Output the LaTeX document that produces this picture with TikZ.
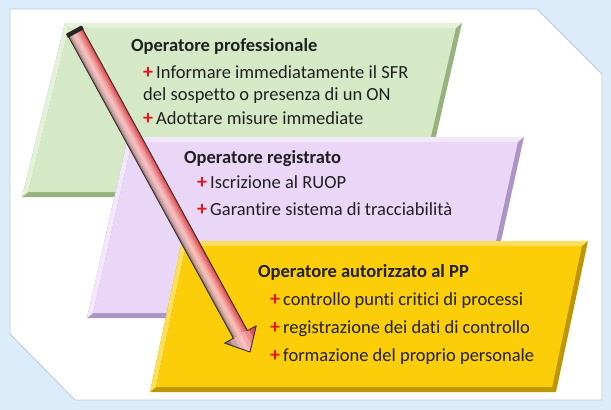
\documentclass[tikz,border=0pt]{standalone}
\usepackage{fontspec}
\setmainfont{Carlito}[Ligatures=CommonOff]
\usetikzlibrary{calc}
\definecolor{bgblue}{RGB}{220,236,250}
\definecolor{framegray}{RGB}{190,200,210}
\definecolor{textdark}{RGB}{32,32,32}
\definecolor{plusred}{RGB}{232,20,28}
\definecolor{gmain}{RGB}{213,233,198}
\definecolor{glight}{RGB}{228,242,218}
\definecolor{gdark}{RGB}{150,178,125}
\definecolor{lmain}{RGB}{234,215,247}
\definecolor{llight}{RGB}{243,232,251}
\definecolor{ldark}{RGB}{172,148,196}
\definecolor{ymain}{RGB}{252,206,10}
\definecolor{ylight}{RGB}{255,222,90}
\definecolor{ydark}{RGB}{190,150,0}
\definecolor{arrowred}{RGB}{222,78,84}
\definecolor{arrowpink}{RGB}{248,190,190}
\definecolor{arrowgray}{RGB}{150,128,128}
\definecolor{arrowdark}{RGB}{60,40,40}
\newcommand\bevelpanel[4]{%
  \fill[#4] (#1-oTL) -- (#1-oTR) -- (#1-oBR) -- (#1-oBL) -- cycle;
  \fill[#3] (#1-oTL) -- (#1-oTR) -- (#1-iTR) -- (#1-iTL) -- cycle;
  \fill[#3] (#1-oTL) -- (#1-iTL) -- (#1-iBL) -- (#1-oBL) -- cycle;
  \fill[#2] (#1-iTL) -- (#1-iTR) -- (#1-iBR) -- (#1-iBL) -- cycle;}
\newcommand\plusmark{{\color{plusred}\fontsize{20}{20}\selectfont\bfseries+}\,}
\begin{document}
\begin{tikzpicture}[x=1pt,y=-1pt,
  txt/.style={anchor=base west, inner sep=0pt, text=textdark, font=\fontsize{18.5}{22}\selectfont},
  ttl/.style={txt, font=\fontsize{18.5}{22}\selectfont\bfseries}]
\useasboundingbox (0,0) rectangle (611,410);
\fill[bgblue] (0,0) rectangle (611,410);
\fill[white, draw=framegray, line width=0.8pt] (10,9) -- (537,9) -- (602,74) -- (602,400) -- (75,400) -- (10,334) -- cycle;
% green panel
\coordinate (g-oTL) at (65,23);  \coordinate (g-oTR) at (462,23);
\coordinate (g-oBR) at (422,197); \coordinate (g-oBL) at (22,197);
\coordinate (g-iTL) at (68.8,28); \coordinate (g-iTR) at (455.9,28);
\coordinate (g-iBR) at (418.2,192); \coordinate (g-iBL) at (28.2,192);
\bevelpanel{g}{gmain}{glight}{gdark}
% lavender panel
\coordinate (l-oTL) at (128,137); \coordinate (l-oTR) at (524,137);
\coordinate (l-oBR) at (484,318); \coordinate (l-oBL) at (87,318);
\coordinate (l-iTL) at (131.9,142); \coordinate (l-iTR) at (517.9,142);
\coordinate (l-iBR) at (480.1,313); \coordinate (l-iBL) at (93.1,313);
\bevelpanel{l}{lmain}{llight}{ldark}
% gold panel
\coordinate (y-oTL) at (182,241); \coordinate (y-oTR) at (588,241);
\coordinate (y-oBR) at (556,392); \coordinate (y-oBL) at (150,392);
\coordinate (y-iTL) at (185.9,246); \coordinate (y-iTR) at (581.9,246);
\coordinate (y-iBR) at (552.1,387); \coordinate (y-iBL) at (156.1,387);
\bevelpanel{y}{ymain}{ylight}{ydark}
% arrow (drawn along the local x axis, then rotated onto the page)
\begin{scope}[transform canvas={shift={(74pt,-30pt)}, rotate=-61.34}]
  \begin{scope}
    \clip (0pt,-8pt) rectangle (348pt,8pt);
    \foreach \yy/\cc in {-8/arrowgray, -6/arrowpink!55!arrowgray, -4/arrowpink!85!arrowgray, -2/arrowpink, 0/arrowpink!85!arrowred, 2/arrowpink!60!arrowred, 4/arrowpink!30!arrowred, 6/arrowred}
      \fill[\cc] (0pt,\yy pt) rectangle (348pt,\yy pt+2pt);
  \end{scope}
  \begin{scope}
    \clip (347pt,-18pt) -- (367pt,0pt) -- (347pt,18pt) -- cycle;
    \foreach \yy/\cc in {-18/arrowgray, -12/arrowpink!55!arrowgray, -7/arrowpink!85!arrowgray, -3/arrowpink, 1/arrowpink!80!arrowred, 5/arrowpink!50!arrowred, 10/arrowred}
      \fill[\cc] (347pt,\yy pt) rectangle (368pt,19pt);
  \end{scope}
  \draw[arrowdark, line width=0.9pt, line join=round] (0pt,-8pt) -- (347pt,-8pt) -- (347pt,-18pt) -- (367pt,0pt) -- (347pt,18pt) -- (347pt,8pt) -- (0pt,8pt) -- cycle;
  \fill[black!85] (0pt,-9pt) rectangle (4pt,9pt);
\end{scope}
% texts
\node[ttl] (g0) at (131,51) {Operatore professionale};
\node[txt] (g1) at (143,78) {\plusmark Informare immediatamente il SFR};
\node[txt] (g2) at (143,100) {del sospetto o presenza di un ON};
\node[txt] (g3) at (143,124) {\plusmark Adottare misure immediate};
\node[ttl] (l0) at (184,163) {Operatore registrato};
\node[txt] (l1) at (197,188) {\plusmark Iscrizione al RUOP};
\node[txt] (l2) at (197,215) {\plusmark Garantire sistema di tracciabilità};
\node[ttl] (y0) at (258,277) {Operatore autorizzato al PP};
\node[txt] (y1) at (270,305) {\plusmark controllo punti critici di processi};
\node[txt] (y2) at (270,333) {\plusmark registrazione dei dati di controllo};
\node[txt] (y3) at (270,361) {\plusmark formazione del proprio personale};
\end{tikzpicture}
\end{document}
